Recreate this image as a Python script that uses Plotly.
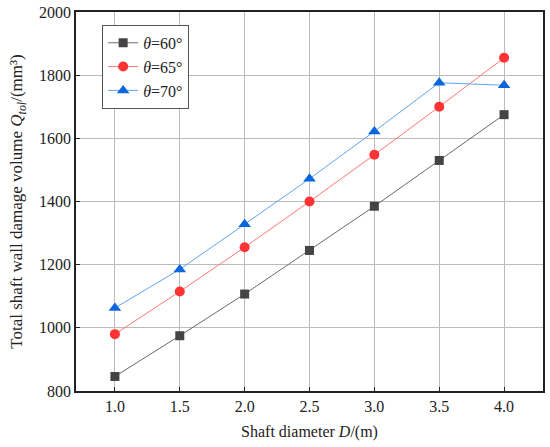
import plotly.graph_objects as go

D = [1.0, 1.5, 2.0, 2.5, 3.0, 3.5, 4.0]
q60 = [846, 975, 1107, 1245, 1385, 1530, 1675]
q65 = [980, 1115, 1255, 1400, 1548, 1700, 1855]
q70 = [1063, 1185, 1328, 1472, 1622, 1776, 1768]

font = "Liberation Serif, Times New Roman, serif"

fig = go.Figure()
fig.add_trace(go.Scatter(
    x=D, y=q60, mode='lines+markers', name='<i>θ</i>=60°',
    line=dict(color='#6a6a6a', width=1),
    marker=dict(symbol='square', size=9, color='#444444')))
fig.add_trace(go.Scatter(
    x=D, y=q65, mode='lines+markers', name='<i>θ</i>=65°',
    line=dict(color='#ff7777', width=1),
    marker=dict(symbol='circle', size=10, color='#ff3333')))
fig.add_trace(go.Scatter(
    x=D, y=q70, mode='lines+markers', name='<i>θ</i>=70°',
    line=dict(color='#5fa5ee', width=1),
    marker=dict(symbol='triangle-up', size=11, color='#0a66dd')))

axis = dict(
    showline=True, linecolor='#222', linewidth=1.5, mirror=True,
    showgrid=True, gridcolor='#bbbbbb', gridwidth=1,
    ticks='inside', ticklen=4, tickcolor='#222',
    zeroline=False, tickfont=dict(size=16, color='#222'),
    automargin=False,
)

fig.update_layout(
    width=550, height=447,
    margin=dict(l=76, r=7, t=12, b=56),
    plot_bgcolor='white', paper_bgcolor='white',
    font=dict(family=font, size=16, color='#222'),
    xaxis=dict(axis, range=[0.7, 4.3], tickvals=D, ticktext=['1.0', '1.5', '2.0', '2.5', '3.0', '3.5', '4.0'],
               title=dict(text='Shaft diameter <i>D</i>/(m)', standoff=12, font=dict(size=16))),
    yaxis=dict(axis, range=[800, 2000], dtick=200,
               title=dict(text='Total shaft wall damage volume <i>Q</i><sub><i>tol</i></sub>/(mm³)',
                          standoff=12, font=dict(size=17))),
    legend=dict(x=0.056, y=0.966, xanchor='left', yanchor='top',
                bgcolor='white', bordercolor='#555', borderwidth=1,
                font=dict(size=16), tracegroupgap=0, itemwidth=30),
    showlegend=True,
)

# drop the default body margin so the figure sits at the page corner
fig.write_html("out.html", config={'displayModeBar': False},
               post_script="document.body.style.margin='0';")
